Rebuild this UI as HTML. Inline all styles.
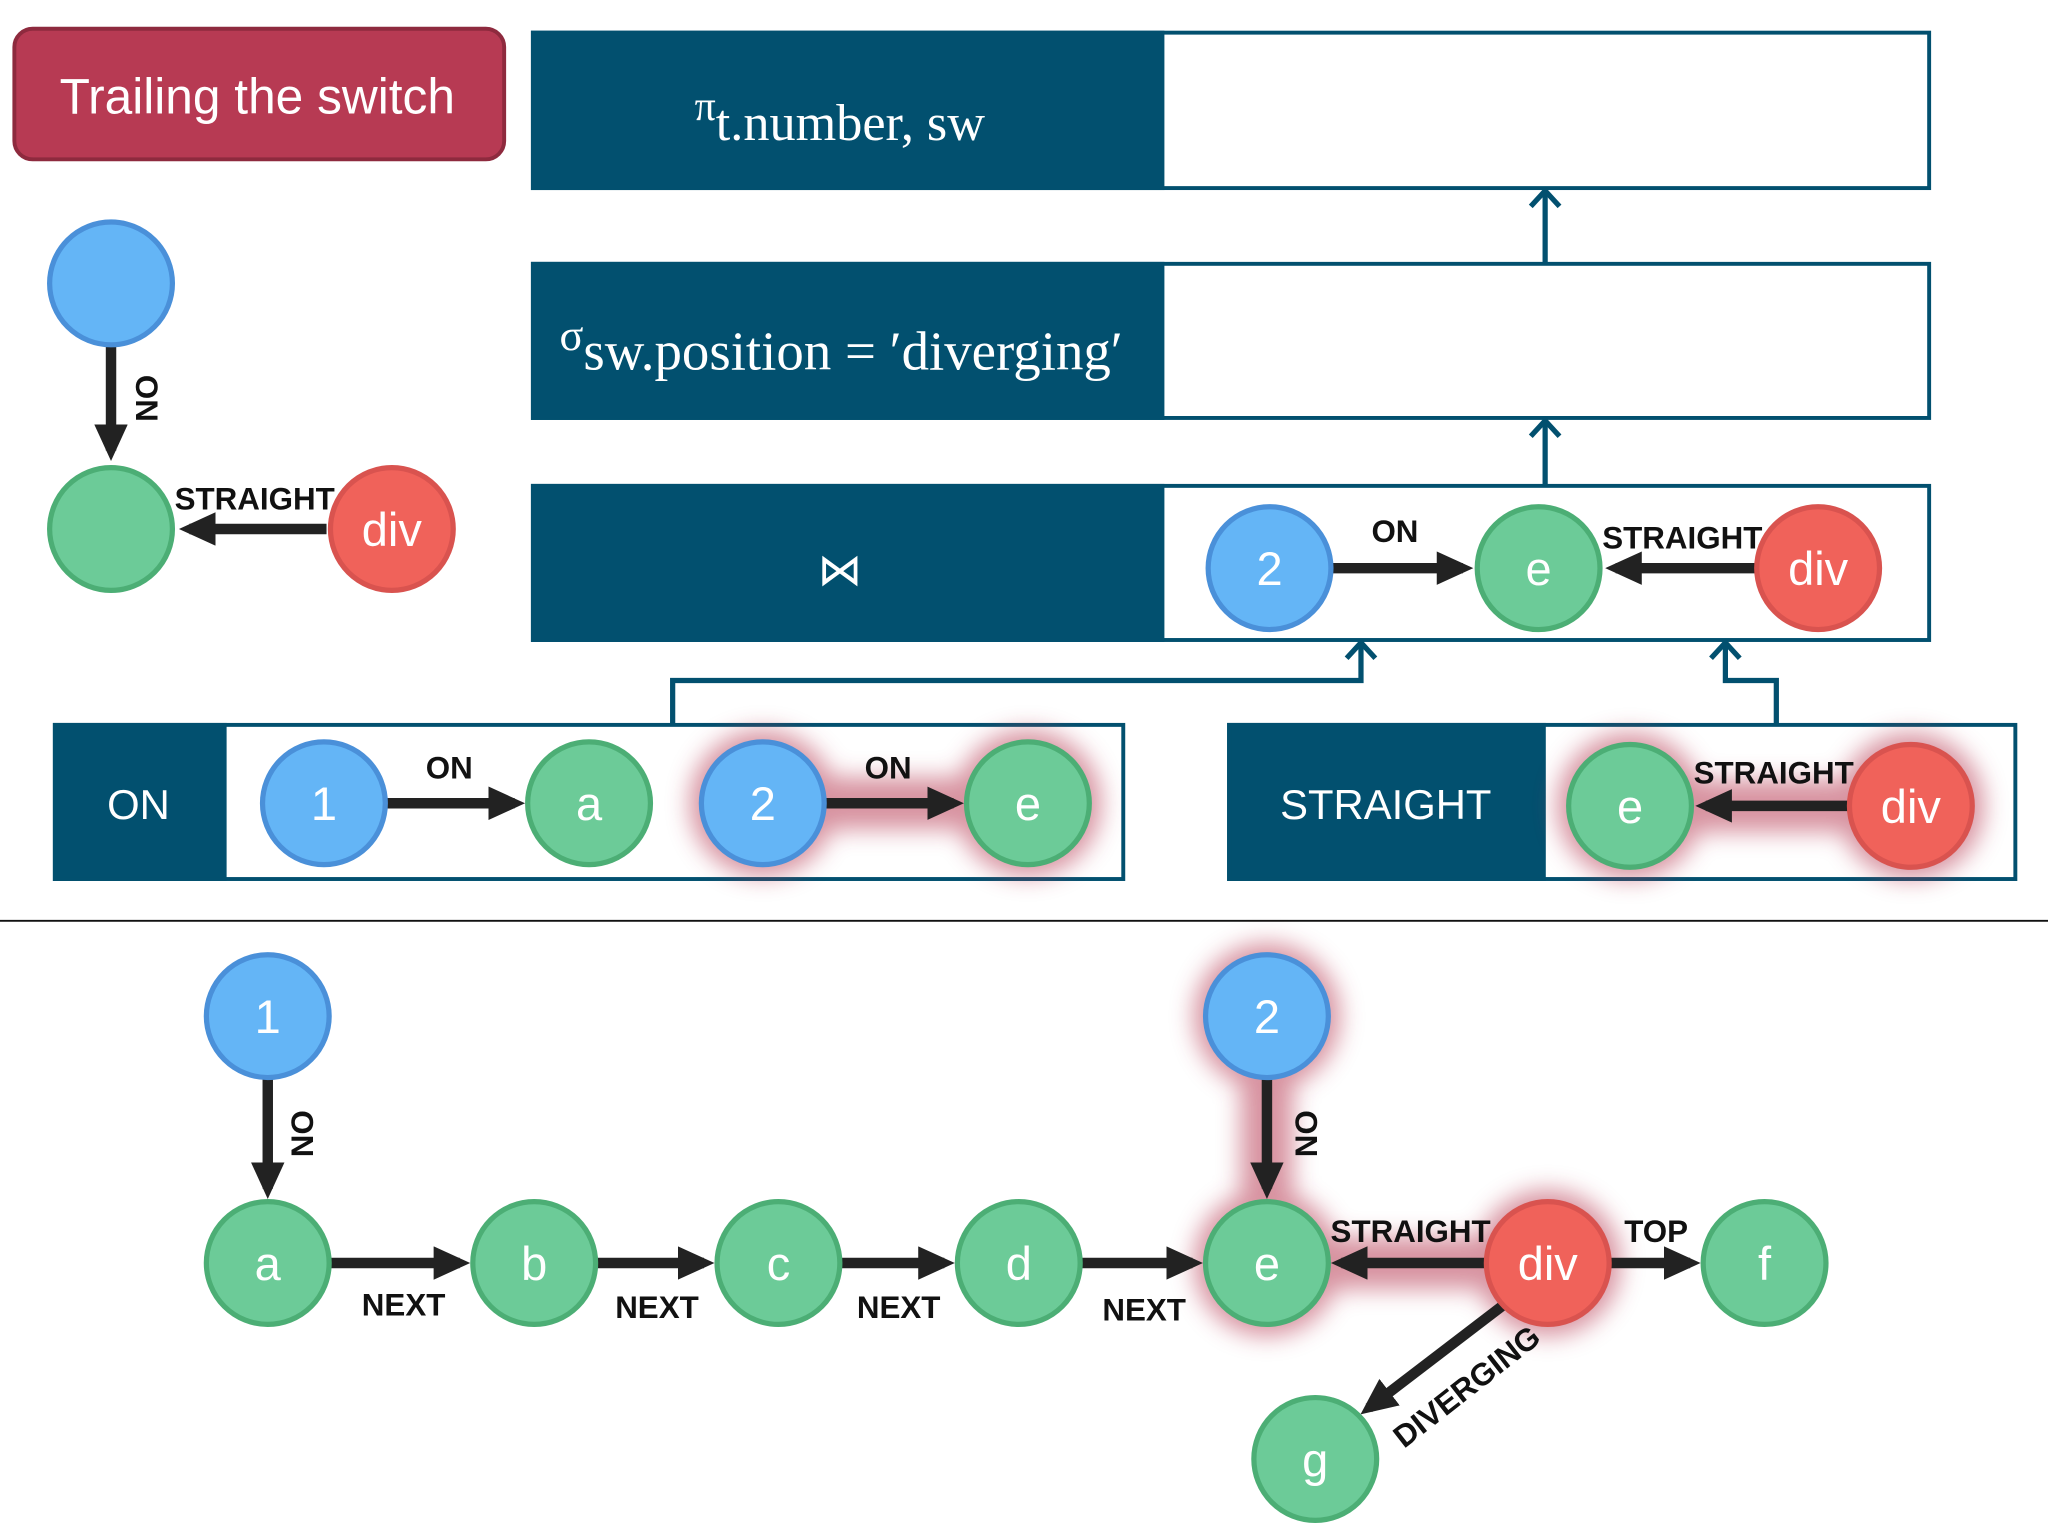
<!DOCTYPE html>
<html><head><meta charset="utf-8"><style>html,body{margin:0;padding:0;background:#fff}svg{display:block}</style></head>
<body>
<svg width="2048" height="1536" viewBox="0 0 1568 1176" xmlns="http://www.w3.org/2000/svg" font-family="Liberation Sans, sans-serif">
<defs>
<filter id="glow" x="-50%" y="-50%" width="200%" height="200%"><feGaussianBlur stdDeviation="9"/></filter>
<marker id="ah" markerWidth="5" markerHeight="5" refX="2.5" refY="1.6" orient="auto" markerUnits="strokeWidth"><path d="M0,0 L3.5,1.6 L0,3.2 Z" fill="#222"/></marker>
</defs>
<rect width="1568" height="1176" fill="#fff"/>
<rect x="11" y="22" width="375" height="100" rx="14" fill="#b73a53" stroke="#8e2a3e" stroke-width="3"/>
<text x="197" y="87" font-size="38" fill="#fff" text-anchor="middle">Trailing the switch</text>

<g stroke="#02506f" stroke-width="3">
<rect x="408" y="25" width="1069" height="119" fill="#fff"/><rect x="408" y="25" width="482" height="119" fill="#02506f"/>
<rect x="408" y="202" width="1069" height="118" fill="#fff"/><rect x="408" y="202" width="482" height="118" fill="#02506f"/>
<rect x="408" y="372" width="1069" height="118" fill="#fff"/><rect x="408" y="372" width="482" height="118" fill="#02506f"/>
<rect x="42" y="555" width="818" height="118" fill="#fff"/><rect x="42" y="555" width="130" height="118" fill="#02506f"/>
<rect x="941" y="555" width="602" height="118" fill="#fff"/><rect x="941" y="555" width="241" height="118" fill="#02506f"/>
</g>
<text x="643" y="107" font-size="40" fill="#fff" text-anchor="middle" font-family="Liberation Serif, serif"><tspan font-size="32" dy="-15">π</tspan><tspan dy="15">t.number, sw</tspan></text>
<text x="644" y="283" font-size="42" fill="#fff" text-anchor="middle" font-family="Liberation Serif, serif"><tspan font-size="34" dy="-15">σ</tspan><tspan dy="15">sw.position = ′diverging′</tspan></text>
<text x="643" y="448" font-size="34" fill="#fff" text-anchor="middle">⋈</text>
<text x="106" y="627" font-size="32" fill="#fff" text-anchor="middle">ON</text>
<text x="1061" y="627" font-size="32" fill="#fff" text-anchor="middle">STRAIGHT</text>

<g stroke="#02506f" stroke-width="4" fill="none">
<path d="M1183 202 V146"/><path d="M1172 158 L1183 146 L1194 158"/>
<path d="M1183 372 V322"/><path d="M1172 334 L1183 322 L1194 334"/>
<path d="M515 554 V521 H1042 V492"/><path d="M1031 504 L1042 492 L1053 504"/>
<path d="M1360 554 V521 H1321 V492"/><path d="M1310 504 L1321 492 L1332 504"/>
</g>
<line x1="0" y1="705" x2="1568" y2="705" stroke="#111" stroke-width="1.5"/>

<g fill="#b73a53" opacity="0.55" filter="url(#glow)">
<circle cx="584" cy="615" r="56"/><circle cx="787" cy="615" r="56"/><rect x="584" y="595" width="203" height="40"/>
<circle cx="1248" cy="617" r="56"/><circle cx="1463" cy="617" r="56"/><rect x="1248" y="597" width="215" height="40"/>
<circle cx="970" cy="778" r="56"/><circle cx="970" cy="967" r="56"/><circle cx="1185" cy="967" r="56"/><rect x="950" y="778" width="40" height="189"/><rect x="970" y="947" width="215" height="40"/>
</g>

<g stroke="#222" stroke-width="8" marker-end="url(#ah)">
<line x1="85" y1="265" x2="85" y2="345"/>
<line x1="250" y1="405" x2="145" y2="405"/>
<line x1="1020" y1="435" x2="1120" y2="435"/>
<line x1="1344" y1="435" x2="1237" y2="435"/>
<line x1="296" y1="615" x2="394" y2="615"/>
<line x1="632" y1="615" x2="730" y2="615"/>
<line x1="1416" y1="617" x2="1306" y2="617"/>
<line x1="205" y1="826" x2="205" y2="910"/>
<line x1="970" y1="826" x2="970" y2="910"/>
<line x1="253" y1="967" x2="352" y2="967"/>
<line x1="457" y1="967" x2="539" y2="967"/>
<line x1="644" y1="967" x2="723" y2="967"/>
<line x1="828" y1="967" x2="913" y2="967"/>
<line x1="1137" y1="967" x2="1027" y2="967"/>
<line x1="1233" y1="967" x2="1294" y2="967"/>
<line x1="1150" y1="1000" x2="1048" y2="1078"/>
</g>

<g stroke-width="4" fill="#fff">
<g fill="#64b5f6" stroke="#4a90d9">
<circle cx="85" cy="217" r="47"/><circle cx="972" cy="435" r="47"/><circle cx="248" cy="615" r="47"/><circle cx="584" cy="615" r="47"/><circle cx="205" cy="778" r="47"/><circle cx="970" cy="778" r="47"/>
</g>
<g fill="#6ccb98" stroke="#4cae75">
<circle cx="85" cy="405" r="47"/><circle cx="1178" cy="435" r="47"/><circle cx="451" cy="615" r="47"/><circle cx="787" cy="615" r="47"/><circle cx="1248" cy="617" r="47"/>
<circle cx="205" cy="967" r="47"/><circle cx="409" cy="967" r="47"/><circle cx="596" cy="967" r="47"/><circle cx="780" cy="967" r="47"/><circle cx="970" cy="967" r="47"/><circle cx="1351" cy="967" r="47"/><circle cx="1007" cy="1117" r="47"/>
</g>
<g fill="#f0625a" stroke="#d9534f">
<circle cx="300" cy="405" r="47"/><circle cx="1392" cy="435" r="47"/><circle cx="1463" cy="617" r="47"/><circle cx="1185" cy="967" r="47"/>
</g>
</g>
<g font-size="36" text-anchor="middle" fill="#fff">
<text x="300" y="418">div</text><text x="972" y="448">2</text><text x="1178" y="448">e</text><text x="1392" y="448">div</text>
<text x="248" y="628">1</text><text x="451" y="628">a</text><text x="584" y="628">2</text><text x="787" y="628">e</text>
<text x="1248" y="630">e</text><text x="1463" y="630">div</text>
<text x="205" y="791">1</text><text x="970" y="791">2</text>
<text x="205" y="980">a</text><text x="409" y="980">b</text><text x="596" y="980">c</text><text x="780" y="980">d</text><text x="970" y="980">e</text><text x="1185" y="980">div</text><text x="1351" y="980">f</text><text x="1007" y="1130">g</text>
</g>

<g font-size="24" font-weight="bold" fill="#111" text-anchor="middle">
<text x="195" y="390">STRAIGHT</text>
<text transform="translate(104,305) rotate(90)">ON</text>
<text x="1068" y="415">ON</text><text x="1288" y="420">STRAIGHT</text>
<text x="344" y="596">ON</text><text x="680" y="596">ON</text><text x="1358" y="600">STRAIGHT</text>
<text transform="translate(223,868) rotate(90)">ON</text>
<text transform="translate(992,868) rotate(90)">ON</text>
<text x="309" y="1007">NEXT</text><text x="503" y="1009">NEXT</text><text x="688" y="1009">NEXT</text><text x="876" y="1011">NEXT</text>
<text x="1080" y="951">STRAIGHT</text><text x="1268" y="951">TOP</text>
<text transform="translate(1128,1068) rotate(-38)">DIVERGING</text>
</g>
</svg>
</body></html>
